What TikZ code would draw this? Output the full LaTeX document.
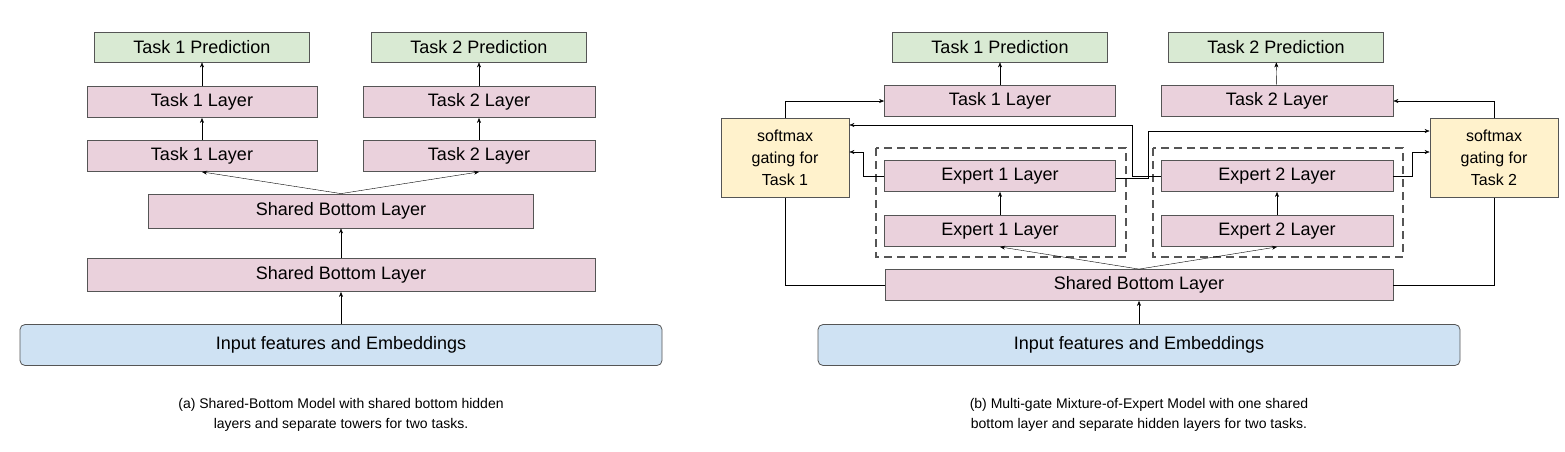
\documentclass[tikz,border=0pt]{standalone}
\usepackage{fontspec}
\setmainfont{Liberation Sans}
\usetikzlibrary{arrows.meta,shapes}
\definecolor{pinkbox}{HTML}{EAD1DC}
\definecolor{greenbox}{HTML}{D9EAD3}
\definecolor{bluebox}{HTML}{CFE2F3}
\definecolor{yellowbox}{HTML}{FFF2CC}
\definecolor{edgegray}{HTML}{555555}
\begin{document}
\begin{tikzpicture}[x=1pt,y=-1pt]
      \tikzstyle{box}=[rectangle,draw=edgegray,thick,inner sep=0pt,font=\fontsize{18}{20}\selectfont]
      \tikzstyle{layer}=[box,fill=pinkbox,minimum height=31pt]
      \tikzstyle{pred}=[box,fill=greenbox,minimum height=30pt,minimum width=215pt]
      \tikzstyle{inp}=[box,fill=bluebox,rounded corners=5pt,minimum height=41pt,minimum width=642pt]
      \tikzstyle{gate}=[box,fill=yellowbox,minimum height=79pt,minimum width=128pt,align=center,font=\fontsize{16}{22}\selectfont]
      \tikzstyle{expert}=[draw=edgegray,very thick,dash pattern=on 8pt off 5pt]
      \tikzstyle{caption}=[align=center,font=\fontsize{14}{20}\selectfont]
      \tikzset{>={Stealth[length=5pt,width=4pt]}}
      \useasboundingbox (0,0) rectangle (1565,451);

      % (a) shared bottom
      \begin{scope}
        \node[pred](p1) at (202,47){Task 1 Prediction};
        \node[pred](p2) at (479,47){Task 2 Prediction};
        \node[layer,minimum width=230pt](t1) at (202,102){Task 1 Layer};
        \node[layer,minimum width=232pt](t2) at (479,102){Task 2 Layer};
        \node[layer,minimum width=230pt](l1) at (202,156){Task 1 Layer};
        \node[layer,minimum width=232pt](l2) at (479,156){Task 2 Layer};
        \node[layer,minimum width=385pt,minimum height=34pt](s2) at (341,211){Shared Bottom Layer};
        \node[layer,minimum width=508pt,minimum height=33pt](s1) at (341,275){Shared Bottom Layer};
        \node[inp](in) at (341,345){Input features and Embeddings};
        \node[caption](ca) at (341,415){(a) Shared-Bottom Model with shared bottom hidden\\layers and separate towers for two tasks.};

        \draw[->] (in) -- (s1);
        \draw[->] (s1) -- (s2);
        \draw[->] (s2.north) -- (l1.south);
        \draw[->] (s2.north) -- (l2.south);
        \draw[->] (l1) -- (t1);
        \draw[->] (l2) -- (t2);
        \draw[->] (t1) -- (p1);
        \draw[->] (t2) -- (p2);
      \end{scope}

      % (b) multi-gate mixture of experts
      \begin{scope}
        \node[pred](q1) at (1000,47){Task 1 Prediction};
        \node[pred](q2) at (1276,47){Task 2 Prediction};
        \node[layer,minimum width=231pt](u1) at (1000,101){Task 1 Layer};
        \node[layer,minimum width=232pt](u2) at (1277,101){Task 2 Layer};
        \node[gate](g1) at (785,158){softmax\\gating for\\Task 1};
        \node[gate](g2) at (1494,158){softmax\\gating for\\Task 2};
        \node[layer,minimum width=231pt](e1) at (1000,176){Expert 1 Layer};
        \node[layer,minimum width=232pt](e2) at (1277,176){Expert 2 Layer};
        \node[layer,minimum width=231pt](f1) at (1000,231){Expert 1 Layer};
        \node[layer,minimum width=232pt](f2) at (1277,231){Expert 2 Layer};
        \draw[expert] (876,148) rectangle (1126,257);
        \draw[expert] (1153,148) rectangle (1403,257);
        \node[layer,minimum width=508pt](sb) at (1139,285){Shared Bottom Layer};
        \node[inp](inb) at (1139,345){Input features and Embeddings};
        \node[caption](cb) at (1139,415){(b) Multi-gate Mixture-of-Expert Model with one shared\\bottom layer and separate hidden layers for two tasks.};

        \draw[->] (inb) -- (sb);
        \draw[->] (sb.north) -- (f1.south);
        \draw[->] (sb.north) -- (f2.south);
        \draw[->] (f1) -- (e1);
        \draw[->] (f2) -- (e2);
        \draw[->] (u1) -- (q1);
        \draw[->] (u2) -- (q2);
        \draw[->] (g1.north) |- (u1.west);
        \draw[->] (g2.north) |- (u2.east);
        \draw (g1.south) |- (sb.west);
        \draw (g2.south) |- (sb.east);
        \draw[->] (e1.west) -- ++(-21,0) |- ([yshift=6pt]g1.east);
        \draw[->] (e2.west) -- ++(-28,0) |- ([yshift=33pt]g1.east);
        \draw[->] ([yshift=-2pt]e1.east) -- ++(32,0) |- ([yshift=27pt]g2.west);
        \draw[->] (e2.east) -- ++(19,0) |- ([yshift=6pt]g2.west);
      \end{scope}
    \end{tikzpicture}
\end{document}
